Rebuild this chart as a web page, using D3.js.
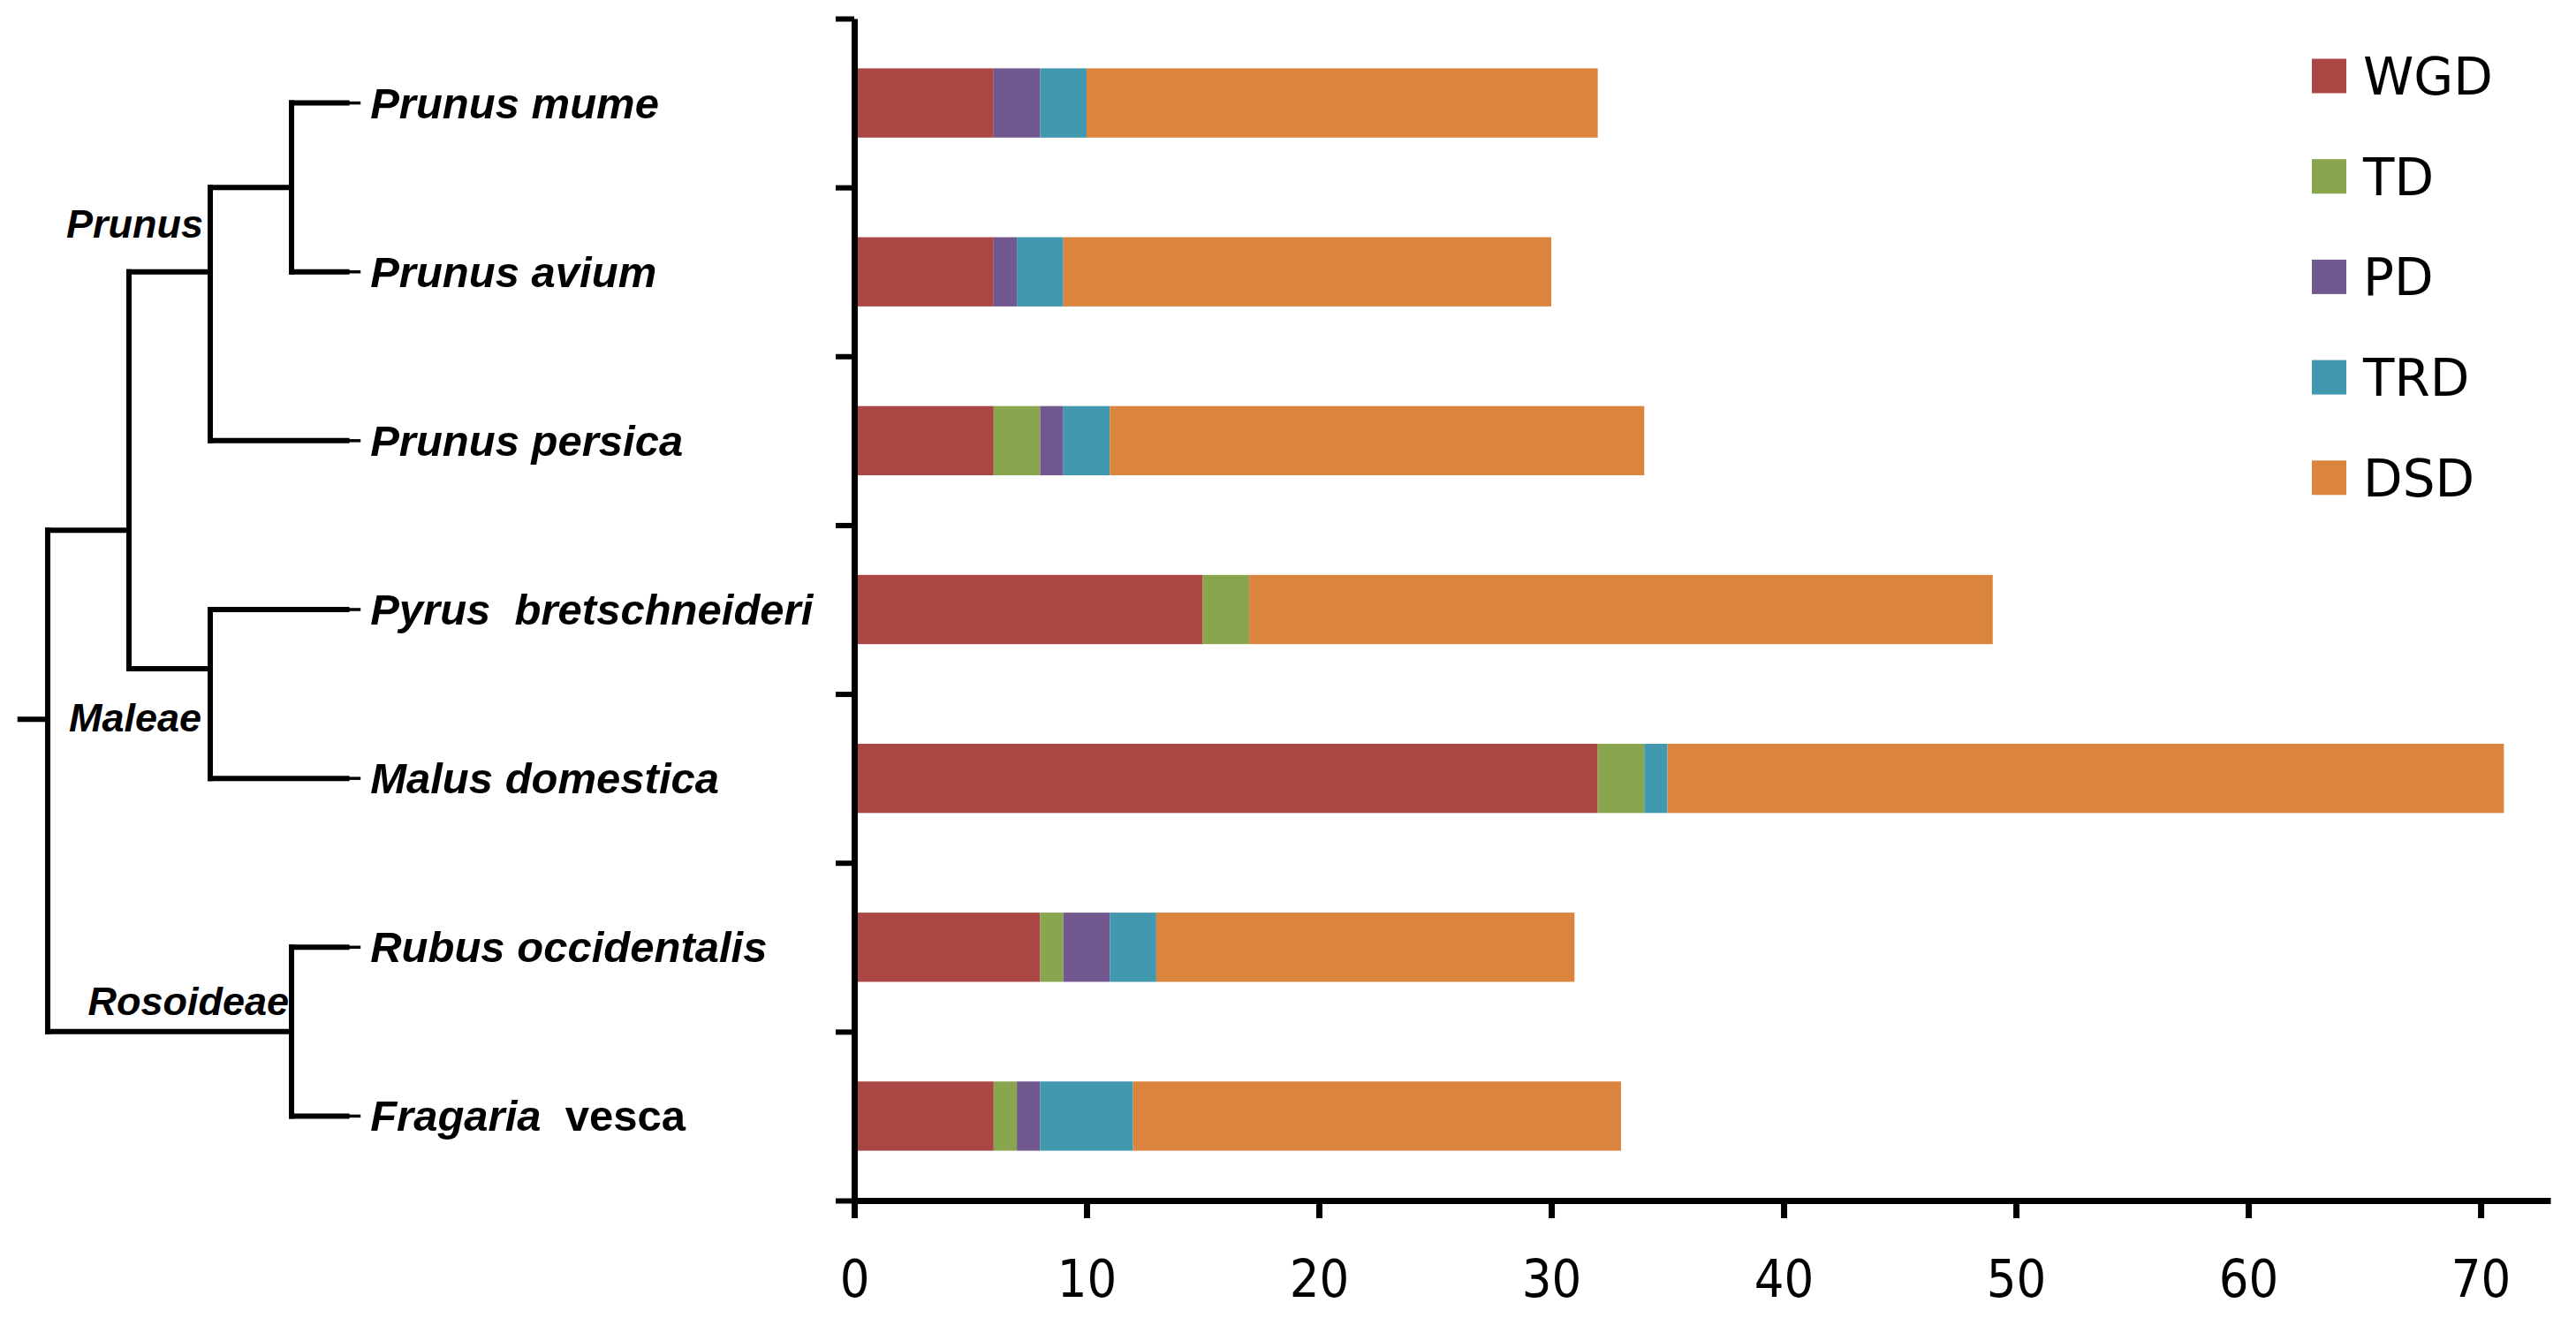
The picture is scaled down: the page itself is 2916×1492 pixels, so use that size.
<!DOCTYPE html>
<html>
<head>
<meta charset="utf-8">
<script src="https://cdn.jsdelivr.net/npm/d3@7/dist/d3.min.js"></script>
<style>
  html, body { margin: 0; padding: 0; background: #fff; }
  svg { display: block; }
  text { white-space: pre; }
</style>
</head>
<body>
<svg id="chart" width="2916" height="1492"></svg>
<script>
// ---------- data ----------
const categories = ["Prunus mume", "Prunus avium", "Prunus persica", "Pyrus  bretschneideri",
                    "Malus domestica", "Rubus occidentalis", "Fragaria  vesca"];
const seriesNames = ["WGD", "TD", "PD", "TRD", "DSD"];
const WGD = [6, 6, 6, 15, 32, 8, 6];
const TD  = [0, 0, 2, 2, 2, 1, 1];
const PD  = [2, 1, 1, 0, 0, 2, 1];
const TRD = [2, 2, 2, 0, 1, 2, 4];
const DSD = [22, 21, 23, 32, 36, 18, 21];
const xTickValues = [0, 10, 20, 30, 40, 50, 60, 70];
const seriesColors = ["#AA4644", "#89A54E", "#71588F", "#4198AF", "#DB843D"];

// tree (depth = level from root, attach = vertical position in leaf-index units)
const treeNodes = [
  { id: "n1",        depth: 3, attach: 0.5,  children: ["Prunus mume", "Prunus avium"] },
  { id: "Prunus",    depth: 2, attach: 1.0,  children: ["n1", "Prunus persica"] },
  { id: "Maleae",    depth: 2, attach: 3.35, children: ["Pyrus  bretschneideri", "Malus domestica"] },
  { id: "n2",        depth: 1, attach: 2.53, children: ["Prunus", "Maleae"] },
  { id: "Rosoideae", depth: 3, attach: 5.5,  children: ["Rubus occidentalis", "Fragaria  vesca"] },
  { id: "root",      depth: 0, attach: 3.65, children: ["n2", "Rosoideae"] }
];
const cladeLabels = ["Prunus", "Maleae", "Rosoideae"];
const uprightWords = ["vesca"];

// ---------- layout ----------
const svg = d3.select("#chart");
const plotLeft = 967, plotRight = 2887, plotTop = 21, plotBottom = 1359;

const x = d3.scaleLinear().domain([0, 73]).range([plotLeft, plotRight]);
const y = d3.scaleBand().domain(categories).range([plotTop, plotBottom])
  .paddingInner(0.59).paddingOuter(0.295);
const yBound = d3.scaleLinear().domain([0, categories.length]).range([plotTop, plotBottom]);
const step = y.step();
const center = c => y(c) + y.bandwidth() / 2;
const yIdx = v => center(categories[0]) + v * step;

const table = categories.map((c, i) => ({
  cat: c, WGD: WGD[i], TD: TD[i], PD: PD[i], TRD: TRD[i], DSD: DSD[i]
}));
const stacked = d3.stack().keys(seriesNames)(table);
const color = d3.scaleOrdinal().domain(seriesNames).range(seriesColors);

// ---------- bars ----------
svg.append("g").selectAll("g").data(stacked).join("g")
  .attr("fill", d => color(d.key))
  .selectAll("rect").data(d => d).join("rect")
  .attr("x", d => x(d[0]))
  .attr("y", d => y(d.data.cat))
  .attr("width", d => Math.max(0, x(d[1]) - x(d[0])))
  .attr("height", y.bandwidth());

// ---------- axes ----------
const yAxis = d3.axisLeft(yBound).tickValues(d3.range(0, categories.length + 1))
  .tickFormat("").tickSize(21).tickSizeOuter(0);
const gy = svg.append("g").attr("transform", `translate(${plotLeft},0)`).call(yAxis);
gy.select(".domain").attr("stroke", "#000").attr("stroke-width", 7);
gy.selectAll(".tick line").attr("stroke", "#000").attr("stroke-width", 6);

const xAxis = d3.axisBottom(x).tickValues(xTickValues).tickSize(20).tickSizeOuter(0).tickPadding(47);
const gx = svg.append("g").attr("transform", `translate(0,${plotBottom})`).call(xAxis);
gx.select(".domain").attr("stroke", "#000").attr("stroke-width", 7);
gx.selectAll(".tick line").attr("stroke", "#000").attr("stroke-width", 7);
gx.selectAll(".tick text")
  .attr("fill", "#000")
  .style("font-family", "'DejaVu Sans Condensed', 'DejaVu Sans', sans-serif")
  .style("font-stretch", "condensed")
  .style("font-size", "59px");

// ---------- legend ----------
const lg = svg.append("g");
const legendItem = lg.selectAll("g").data(seriesNames).join("g")
  .attr("transform", (d, i) => `translate(2617, ${86 + i * 113.7})`);
legendItem.append("rect").attr("x", 0).attr("y", -19.5).attr("width", 39).attr("height", 39)
  .attr("fill", d => color(d));
legendItem.append("text").attr("x", 58).attr("y", 21)
  .style("font-family", "'DejaVu Sans', sans-serif").style("font-size", "58px")
  .attr("fill", "#000").text(d => d);

// ---------- tree ----------
const tx = d3.scaleLinear().domain([0, 1]).range([54, 146]);
const leafThickEnd = tx(3.68), leafEnd = tx(3.85);
const nodeMap = new Map(treeNodes.map(n => [n.id, n]));
const isLeaf = id => !nodeMap.has(id);
const attachY = id => isLeaf(id) ? center(id) : yIdx(nodeMap.get(id).attach);

const tree = svg.append("g").attr("stroke", "#000").attr("fill", "none")
  .attr("stroke-width", 6).attr("stroke-linecap", "square");

treeNodes.forEach(n => {
  const nx = tx(n.depth);
  const ys = n.children.map(attachY);
  tree.append("line").attr("x1", nx).attr("x2", nx)
    .attr("y1", d3.min(ys)).attr("y2", d3.max(ys));
  n.children.forEach(c => {
    const cy = attachY(c);
    if (isLeaf(c)) {
      tree.append("line").attr("x1", nx).attr("x2", leafThickEnd).attr("y1", cy).attr("y2", cy);
      tree.append("line").attr("x1", leafThickEnd).attr("x2", leafEnd).attr("y1", cy).attr("y2", cy)
        .attr("stroke-width", 3.5).attr("stroke-linecap", "butt");
    } else {
      tree.append("line").attr("x1", nx).attr("x2", tx(nodeMap.get(c).depth))
        .attr("y1", cy).attr("y2", cy);
    }
  });
});
// root stem
const rootNode = nodeMap.get("root");
tree.append("line").attr("x1", tx(-0.34)).attr("x2", tx(0))
  .attr("y1", yIdx(rootNode.attach)).attr("y2", yIdx(rootNode.attach));

// leaf labels
const leafFont = "'Liberation Sans', Arial, sans-serif";
const leafText = svg.append("g").selectAll("text").data(categories).join("text")
  .attr("x", leafEnd + 11)
  .attr("y", d => center(d) + 17)
  .style("font-family", leafFont).style("font-size", "49px")
  .style("font-weight", "bold").style("font-style", "italic")
  .attr("fill", "#000");
leafText.each(function (d) {
  const parts = d.split(/(\s+)/);
  const t = d3.select(this);
  parts.forEach(p => {
    t.append("tspan").text(p)
      .style("font-style", uprightWords.includes(p) ? "normal" : "italic");
  });
});

// clade labels
const cladePos = {
  "Prunus":    { dx: -8,  v: 0.80 },
  "Maleae":    { dx: -10, v: 3.72 },
  "Rosoideae": { dx: -3,  v: 5.40 }
};
svg.append("g").selectAll("text").data(cladeLabels).join("text")
  .attr("x", d => tx(nodeMap.get(d).depth) + cladePos[d].dx)
  .attr("y", d => yIdx(cladePos[d].v))
  .attr("text-anchor", "end")
  .style("font-family", leafFont).style("font-size", "45px")
  .style("font-weight", "bold").style("font-style", "italic")
  .attr("fill", "#000").text(d => d);
</script>
</body>
</html>
